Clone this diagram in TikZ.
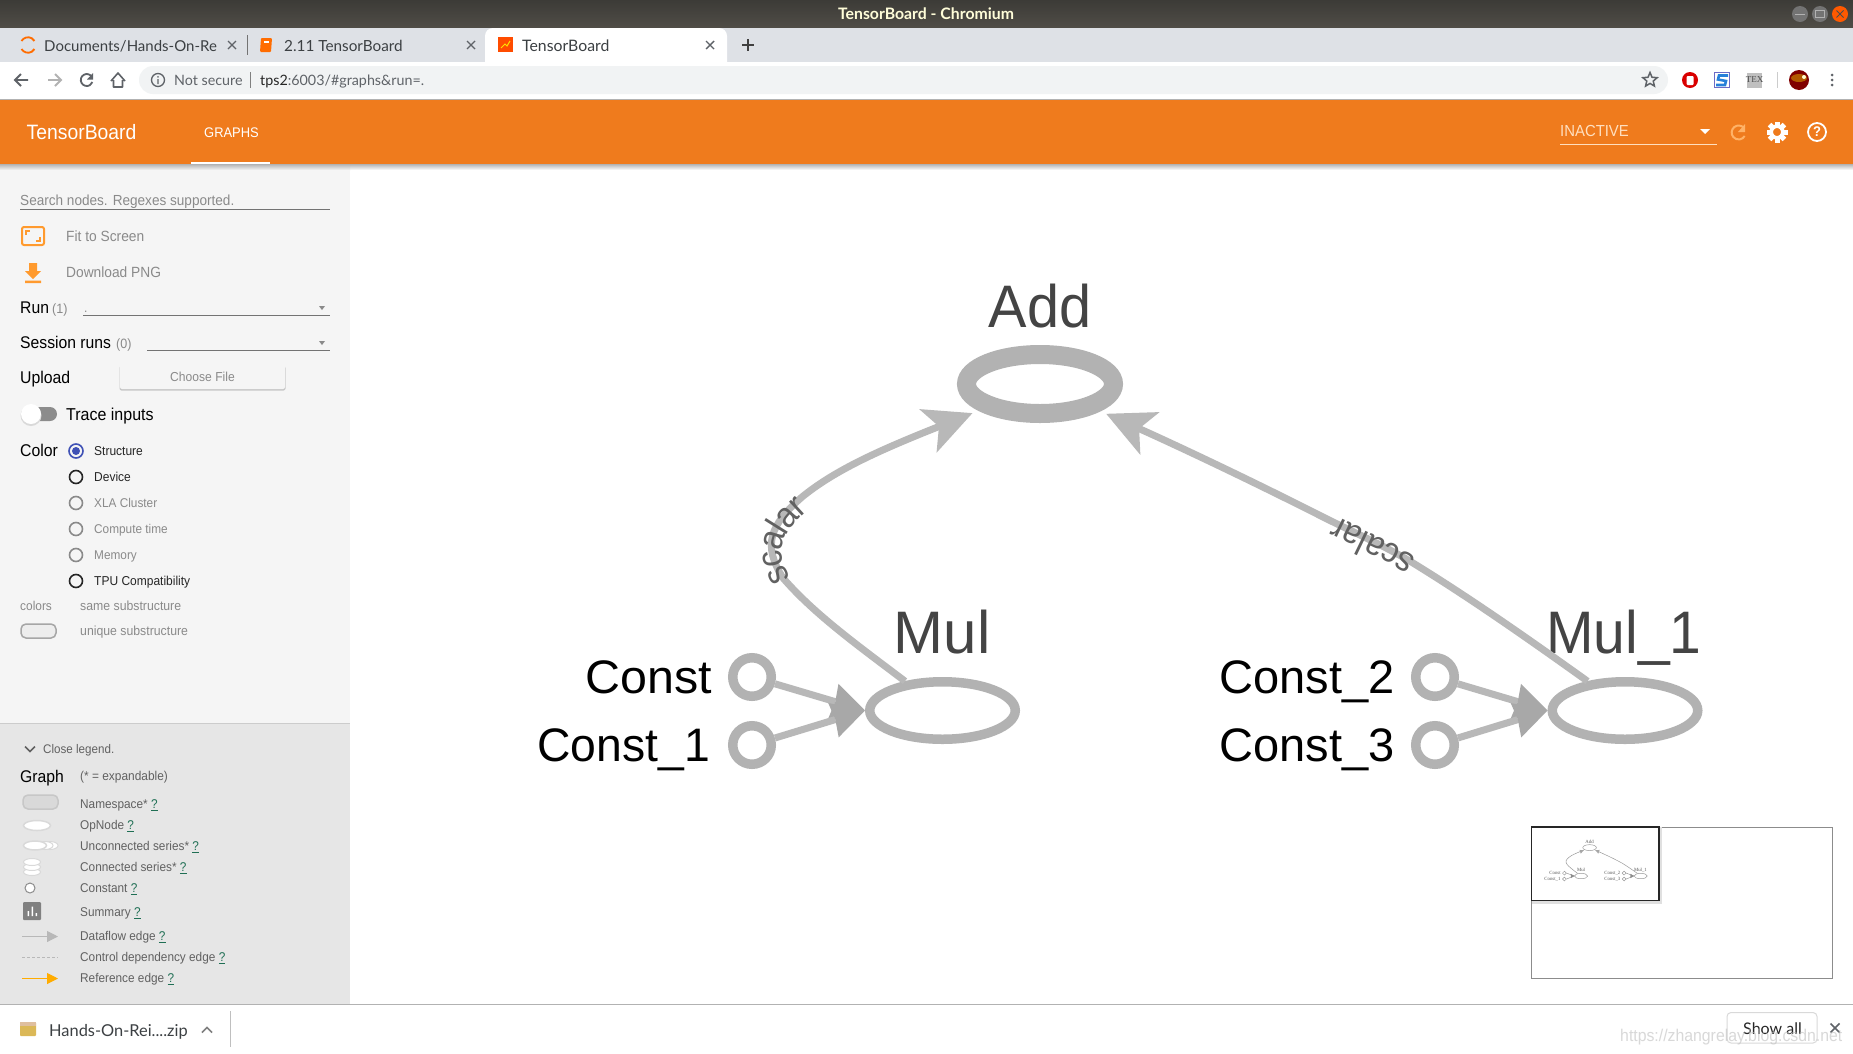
\documentclass[tikz,border=0pt]{standalone}
\usepackage{fontspec}
\usetikzlibrary{arrows.meta,shapes.geometric,decorations.text,calc}
\newfontfamily\uif{Liberation Sans}[FakeStretch=0.93]
\newfontfamily\bigf{Liberation Sans}
\newfontfamily\chr{Lato}
\newfontfamily\mini{Liberation Serif}
\definecolor{titletop}{HTML}{3C3B37}
\definecolor{titlebot}{HTML}{504D47}
\definecolor{tabbar}{HTML}{DEE1E6}
\definecolor{pill}{HTML}{F1F3F4}
\definecolor{orng}{HTML}{EF7B1D}
\definecolor{icono}{HTML}{FF9A2E}
\definecolor{side}{HTML}{F5F5F5}
\definecolor{lgd}{HTML}{E6E6E6}
\definecolor{edgec}{HTML}{B8B8B8}
\definecolor{nodec}{HTML}{B2B2B2}
\definecolor{tipc}{HTML}{A8A8A8}
\definecolor{opname}{HTML}{444444}
\definecolor{gtxt}{HTML}{8A8A8A}
\definecolor{ltxt}{HTML}{616161}
\definecolor{chtxt}{HTML}{3C4043}
\definecolor{chgrey}{HTML}{5F6368}
\definecolor{linkc}{HTML}{1F6F54}
\definecolor{radioblue}{HTML}{3F51B5}
\newcounter{tn}
\newcommand\uit[5]{\stepcounter{tn}\node[anchor=base west,inner sep=0pt,text=#4,font=\uif\fontsize{#3}{#3}\selectfont] (t\arabic{tn}) at (#1,#2) {#5};}
\newcommand\cht[5]{\stepcounter{tn}\node[anchor=base west,inner sep=0pt,text=#4,font=\chr\fontsize{#3}{#3}\selectfont] (t\arabic{tn}) at (#1,#2) {#5};}
\newcommand\qm{{\color{linkc}\underline{?}}}
\tikzset{
 opnode/.style={draw=nodec,ellipse,inner sep=0pt},
 addnode/.style={opnode,minimum width=147pt,minimum height=59pt,line width=19pt},
 mulnode/.style={opnode,minimum width=145.5pt,minimum height=57.5pt,line width=9.5pt},
 constnode/.style={draw=nodec,circle,inner sep=0pt,minimum size=38.5pt,line width=9.5pt},
 dataedge/.style={draw=edgec,line width=7pt,-{Stealth[length=33pt,width=36pt,inset=2pt,fill=tipc,line width=0pt]}},
 bigedge/.style={draw=edgec,line width=7pt,-{Stealth[length=48pt,width=47pt,inset=12pt,fill=edgec,line width=0pt]}},
 opname/.style={inner sep=0pt,anchor=base,text=opname,font=\bigf\fontsize{60}{60}\selectfont},
 constname/.style={inner sep=0pt,anchor=base east,text=black,font=\bigf\fontsize{47}{47}\selectfont},
 minitxt/.style={inner sep=0pt,text=black!65,font=\mini\fontsize{4.8}{4.8}\selectfont},
 xmark/.style={draw=chgrey,line width=1.4pt},
 radiog/.style={draw=gtxt,line width=1.6pt,circle,minimum size=13pt,inner sep=0pt},
 radiok/.style={draw=black!85,line width=1.6pt,circle,minimum size=13pt,inner sep=0pt},
 labeldeco/.style={decorate,decoration={text along path,text align=center,raise=-7pt,
   text={|\uif\fontsize{35.5}{35.5}\selectfont\color{black!62}|scalar}}},
}
\begin{document}
\begin{tikzpicture}[x=1pt,y=-1pt,line cap=butt]
\useasboundingbox (0,0) rectangle (1853,1053);
\fill[white] (0,0) rectangle (1853,1053);
% ---------- title bar
\fill[top color=titletop,bottom color=titlebot] (0,0) rectangle (1853,28);
\stepcounter{tn}\node[font=\chr\bfseries\fontsize{15.8}{15.8}\selectfont,text=white!85!yellow] (title) at (926,14) {TensorBoard - Chromium};
\fill[black!55] (1800,14) circle (8pt); \fill[white!70!black] (1795,13.5) rectangle (1805,14.5);
\fill[black!55] (1820,14) circle (8pt); \draw[white!70!black,line width=1pt] (1815.5,10.5) rectangle (1824.5,17.5);
\fill[orange!70!red] (1840,14) circle (8pt); \draw[black!70,line width=1pt] (1836.5,10.5) -- (1843.5,17.5) (1836.5,17.5) -- (1843.5,10.5);
% ---------- tab strip
\fill[tabbar] (0,28) rectangle (1853,62);
\fill[white,rounded corners=8pt] (485,70) -- (485,28) -- (727,28) -- (727,70) -- cycle;
\fill[white] (0,62) rectangle (1853,99);
\draw[black!55,line width=.8pt] (247,35) -- (247,55);
\draw[orange!85!red,line width=1.8pt] (21.5,41) arc[start angle=150,end angle=30,radius=7.5pt];
\draw[orange!85!red,line width=1.8pt] (21.5,49) arc[start angle=210,end angle=330,radius=7.5pt];
\cht{44}{51}{15}{chtxt}{Documents/Hands-On-Re}
\draw[xmark] (228,41) -- (236,49) (228,49) -- (236,41);
\fill[orange!85!red,rounded corners=1pt] (261,38) -- (272,38) -- (271,52) -- (260,52) -- cycle;
\fill[white] (264,41) rectangle (269,42.5);
\cht{284}{51}{15.3}{chtxt}{2.11 TensorBoard}
\draw[xmark] (467,41) -- (475,49) (467,49) -- (475,41);
\fill[orange!60!red] (498,37) rectangle (513,52);
\draw[yellow!85!orange,line width=1pt] (501,48) -- (505,44) -- (507,46) -- (510,41);
\cht{522}{51}{15.8}{chtxt}{TensorBoard}
\draw[xmark] (706,41) -- (714,49) (706,49) -- (714,41);
\draw[black!75,line width=1.8pt] (742,45) -- (754,45) (748,39) -- (748,51);
% ---------- toolbar
\draw[chgrey,line width=1.8pt] (28,80) -- (15,80) (21,74) -- (15,80) -- (21,86);
\draw[black!30,line width=1.8pt] (48,80) -- (61,80) (55,74) -- (61,80) -- (55,86);
\draw[chgrey,line width=1.8pt] (92,77) arc[start angle=30,end angle=340,radius=6pt];
\fill[chgrey] (93,73) -- (93,79.5) -- (87,79.5) -- cycle;
\draw[chgrey,line width=1.6pt,line join=round] (111,81) -- (118,73) -- (125,81) (113.5,80) -- (113.5,87) -- (122.5,87) -- (122.5,80);
\fill[pill,rounded corners=14pt] (139,66) rectangle (1668,94);
\draw[chgrey,line width=1.3pt] (158,80) circle (6.5pt);
\fill[chgrey] (157.3,79) rectangle (158.7,84) (157.3,76) rectangle (158.7,77.5);
\cht{174}{85.5}{14.3}{chgrey}{Not secure}
\draw[black!50,line width=.7pt] (250,72) -- (250,88);
\cht{260}{85.5}{14.3}{chgrey}{{\color{black!85}tps2}:6003/\#graphs\&run=.}
\node[star,star points=5,star point ratio=2.2,draw=chgrey,line width=1.5pt,minimum size=15pt,inner sep=0pt] (starb) at (1650,80) {};
\fill[red!85!black] (1690,80) circle (8pt);
\fill[white,rounded corners=1pt] (1686.5,85) rectangle (1693.5,76);
\draw[blue!45!gray!80,line width=1pt,fill=white] (1714.5,72.5) rectangle (1729.5,87.5);
\draw[blue!50!cyan!70!gray,line width=2.6pt] (1728,75.5) -- (1719,75.5) -- (1718,79.5) -- (1726,81) -- (1725,85) -- (1716,85);
\fill[black!25] (1747,73) rectangle (1762,88);
\stepcounter{tn}\node[font=\mini\fontsize{9}{9}\selectfont,text=black!70,inner sep=0pt] (texic) at (1754.5,80) {TEX};
\draw[black!20,line width=.8pt] (1777,72) -- (1777,88);
\fill[red!50!black] (1799,80) circle (10pt);
\fill[orange!70!black] (1799,78) ellipse (8pt and 4pt);
\fill[white!80!yellow] (1804,77) circle (2pt);
\fill[chgrey] (1832,75) circle (1.5pt) (1832,80) circle (1.5pt) (1832,85) circle (1.5pt);
\draw[black!30,line width=1pt] (0,99) -- (1853,99);
% ---------- header
\fill[orng] (0,99.5) rectangle (1853,164);
\fill[top color=black!30,bottom color=white] (350,164) rectangle (1853,170);
\uit{26.5}{139.5}{20.8}{white}{TensorBoard}
\uit{204}{137}{13.9}{white}{GRAPHS}
\fill[white] (191,162) rectangle (270,164);
\uit{1560}{136}{16}{orange!25!white}{INACTIVE}
\draw[orange!25!white,line width=1pt] (1560,144.5) -- (1717,144.5);
\fill[white] (1700,129) -- (1710,129) -- (1705,134) -- cycle;
\draw[orange!60!white,line width=2pt] (1744,128) arc[start angle=40,end angle=330,radius=7pt];
\fill[orange!60!white] (1745,124) -- (1745,132) -- (1738,132) -- cycle;
\draw[white,line width=3.6pt] (1777,132) circle (5.8pt);
\foreach \a in {0,45,...,315}{\fill[white,rotate around={\a:(1777,132)}] (1774.5,121.5) rectangle (1779.5,126);}
\draw[white,line width=1.8pt] (1817,132) circle (9pt);
\stepcounter{tn}\node[font=\uif\bfseries\fontsize{14}{14}\selectfont,text=white,inner sep=0pt] (helpq) at (1817,132) {?};
% ---------- sidebar
\fill[side] (0,164) rectangle (350,723);
\fill[top color=black!30,bottom color=side] (0,164) rectangle (350,170);
\uit{20}{205}{14.6}{gtxt}{Search nodes. Regexes supported.}
\draw[black!55,line width=.8pt] (20,209.5) -- (330,209.5);
\draw[icono,line width=2pt,rounded corners=2pt] (22,227) rectangle (44,245);
\draw[icono,line width=1.5pt] (26,235) -- (26,231) -- (30,231) (40,237) -- (40,241) -- (36,241);
\uit{66}{241}{14.8}{gtxt}{Fit to Screen}
\fill[icono] (29,263) rectangle (37,271) (25,271) -- (41,271) -- (33,279) -- cycle (25,280.5) rectangle (41,283);
\uit{66}{277}{14.8}{gtxt}{Download PNG}
\uit{20}{313}{16.9}{black}{Run}
\uit{52}{313}{13.5}{gtxt}{(1)}
\uit{84}{312}{13}{gtxt}{.}
\draw[black!55,line width=.8pt] (83,315.5) -- (330,315.5);
\fill[gtxt] (319,306) -- (325,306) -- (322,310) -- cycle;
\uit{20}{348}{16.9}{black}{Session runs}
\uit{116}{348}{13.5}{gtxt}{(0)}
\draw[black!55,line width=.8pt] (147,350) -- (330,350);
\fill[gtxt] (319,341) -- (325,341) -- (322,345) -- cycle;
\uit{20}{383}{17}{black}{Upload}
\fill[black!22,rounded corners=2pt] (119.5,366) rectangle (285.5,390.5);
\fill[side,rounded corners=2pt] (120,364) rectangle (285,389);
\stepcounter{tn}\node[font=\uif\fontsize{13}{13}\selectfont,text=gtxt,inner sep=0pt] (choose) at (202.5,377) {Choose File};
\fill[black!45,rounded corners=7pt] (30,407) rectangle (57,421);
\fill[black!15] (31,415.5) circle (10.5pt);
\fill[white] (31,414) circle (10pt);
\uit{66}{420}{17.2}{black}{Trace inputs}
\uit{20}{456}{17}{black}{Color}
\node[draw=radioblue,line width=1.6pt,circle,minimum size=14pt,inner sep=0pt] (r0) at (76,451) {};
\fill[radioblue] (r0.center) circle (4pt);
\uit{94}{455.5}{12.9}{black!85}{Structure}
\node[radiok] (r1) at (76,477) {}; \uit{94}{481.5}{12.9}{black!85}{Device}
\node[radiog] (r2) at (76,503) {}; \uit{94}{507.5}{12.7}{gtxt}{XLA Cluster}
\node[radiog] (r3) at (76,529) {}; \uit{94}{533.5}{12.7}{gtxt}{Compute time}
\node[radiog] (r4) at (76,555) {}; \uit{94}{559.5}{12.7}{gtxt}{Memory}
\node[radiok] (r5) at (76,581) {}; \uit{94}{585.5}{12.9}{black!85}{TPU Compatibility}
\uit{20}{610}{12.8}{gtxt}{colors}
\uit{80}{610}{13.2}{gtxt}{same substructure}
\draw[black!35,fill=black!7,line width=1.5pt,rounded corners=5pt] (21,624) rectangle (56,638);
\uit{80}{635}{13.2}{gtxt}{unique substructure}
% ---------- legend
\fill[lgd] (0,723.5) rectangle (350,1004);
\draw[black!20,line width=1pt] (0,723.5) -- (350,723.5);
\draw[ltxt,line width=1.6pt] (25,746.5) -- (30,751.5) -- (35,746.5);
\uit{43}{753.5}{12.5}{ltxt}{Close legend.}
\uit{20}{782}{16.9}{black}{Graph}
\uit{80}{780.5}{12.8}{ltxt}{(* = expandable)}
\draw[black!22,fill=black!15,line width=1.5pt,rounded corners=5pt] (23,795) rectangle (58,809);
\uit{80}{808.5}{12.7}{ltxt}{Namespace* \qm}
\draw[black!15,fill=white,line width=1.5pt] (37,825.5) ellipse (13.5pt and 5pt);
\uit{80}{829.5}{12.7}{ltxt}{OpNode \qm}
\draw[black!15,fill=white,line width=1pt] (50,845.5) ellipse (8pt and 4pt);
\draw[black!15,fill=white,line width=1pt] (45,845.5) ellipse (8pt and 4pt);
\draw[black!15,fill=white,line width=1.5pt] (35,845.5) ellipse (11.5pt and 4.5pt);
\uit{80}{850.5}{12.7}{ltxt}{Unconnected series* \qm}
\draw[black!15,fill=white,line width=1pt] (32,872) ellipse (8.5pt and 3.5pt);
\draw[black!15,fill=white,line width=1pt] (32,867) ellipse (8.5pt and 3.5pt);
\draw[black!15,fill=white,line width=1pt] (32,862) ellipse (8.5pt and 3.5pt);
\uit{80}{871.5}{12.7}{ltxt}{Connected series* \qm}
\draw[black!45,fill=white,line width=1pt] (30,888) circle (5pt);
\uit{80}{892.5}{12.7}{ltxt}{Constant \qm}
\fill[black!50,rounded corners=1pt] (23,902) rectangle (41,920);
\fill[white] (27.5,911) rectangle (29,916) (31.5,906.5) rectangle (33,916) (35.5,913) rectangle (37,916);
\uit{80}{916.5}{12.7}{ltxt}{Summary \qm}
\draw[black!28,line width=1pt,-{Stealth[length=11pt,width=11pt,inset=0pt]}] (22,936.5) -- (58,936.5);
\uit{80}{940.5}{12.7}{ltxt}{Dataflow edge \qm}
\draw[black!28,line width=1pt,densely dashed] (22,957.5) -- (58,957.5);
\uit{80}{961.5}{12.7}{ltxt}{Control dependency edge \qm}
\draw[orange!65!yellow,line width=1pt,-{Stealth[length=11pt,width=11pt,inset=0pt]}] (22,978.5) -- (58,978.5);
\uit{80}{982.5}{12.7}{ltxt}{Reference edge \qm}
% ---------- download shelf
\draw[black!30,line width=1pt] (0,1004) -- (1853,1004);
\fill[brown!70!yellow!80!white,rounded corners=1pt] (20,1022) rectangle (36,1036);
\fill[brown!50!white] (20,1022) rectangle (36,1026);
\cht{49}{1036}{16.4}{chtxt}{Hands-On-Rei....zip}
\draw[black!50,line width=1.5pt] (202,1032.5) -- (207,1027.5) -- (212,1032.5);
\draw[black!25,line width=1pt] (230,1011) -- (230,1047);
\draw[black!15,line width=1pt,rounded corners=4pt] (1727,1012.5) rectangle (1817,1043);
\cht{1743}{1034}{16}{black!85}{Show all}
\draw[chgrey,line width=1.6pt] (1830.5,1023.5) -- (1839.5,1032.5) (1830.5,1032.5) -- (1839.5,1023.5);
% ---------- main graph
\node[addnode] (add) at (1040,384) {};
\node[mulnode] (mul) at (942.5,710.5) {};
\node[mulnode] (mulb) at (1625,710.5) {};
\node[constnode] (c0) at (752,677) {};
\node[constnode] (c1) at (752,745) {};
\node[constnode] (c2) at (1435,677) {};
\node[constnode] (c3) at (1435,745) {};
\node[opname] (addlab) at (1040,327) {\scalebox{.96}[1]{Add}};
\node[opname] (mullab) at (942,653) {Mul};
\node[opname] (mulblab) at (1624,653) {\scalebox{.95}[1]{Mul\_1}};
\node[constname] (cl0) at (712.5,693) {\scalebox{1.03}[1]{Const}};
\node[constname] (cl1) at (710,761.5) {\scalebox{.985}[1]{Const\_1}};
\node[constname] (cl2) at (1395,693) {Const\_2};
\node[constname] (cl3) at (1395,761.5) {Const\_3};
\draw[dataedge] (c0) -- (mul.west);
\draw[dataedge] (c1) -- (mul.west);
\draw[dataedge] (c2) -- (mulb.west);
\draw[dataedge] (c3) -- (mulb.west);
\coordinate (la) at (783,578);
\coordinate (lb) at (802,497);
\coordinate (ra) at (1413,563);
\coordinate (rb) at (1325,518);
\coordinate (lta) at (786,584);
\coordinate (ltb) at (806,503);
\coordinate (rta) at (1418,566);
\coordinate (rtb) at (1330,521);
\coordinate (addl) at ($(add.203)+(-6,3)$);
\coordinate (addr) at ($(add.336)+(6,3)$);
\draw[bigedge] (mul.142) .. controls (860,647) and (815,615) .. (la)
  .. controls (762,545) and (770,525) .. (lb)
  .. controls (835,470) and (880,450) .. (addl);
\draw[bigedge] (mulb.142) .. controls (1530,640) and (1470,598) .. (ra)
  .. controls (1385,546) and (1355,533) .. (rb)
  .. controls (1250,480) and (1180,447) .. (addr);
\path[labeldeco] (lta) .. controls (765,551) and (773,531) .. (ltb);
\path[labeldeco] (rta) .. controls (1390,549) and (1360,536) .. (rtb);
% ---------- minimap
\draw[black!45,line width=1pt] (1531.5,827) rectangle (1832.5,978);
\fill[black!12] (1531.5,827) rectangle (1662,903.5);
\draw[black!85,fill=white,line width=1.5pt] (1531.5,827) rectangle (1659,900.5);
\begin{scope}[shift={(1498.67,814.2)},x=.0874pt,y=-.087pt,draw=black!40,line width=.5pt]
 \draw (1040,384) ellipse [x radius=78,y radius=34];
 \draw (942.5,710.5) ellipse [x radius=75,y radius=31];
 \draw (1625,710.5) ellipse [x radius=75,y radius=31];
 \foreach \p in {(752,677),(752,745),(1435,677),(1435,745)}{\draw \p circle [radius=22];}
 \draw (776,677) -- (865,710) -- (776,745) (1459,677) -- (1547,710) -- (1459,745);
 \fill[black!45] (865,710) -- (825,685) -- (825,735) -- cycle (1547,710) -- (1507,685) -- (1507,735) -- cycle;
 \draw (903,680) .. controls (860,647) and (815,615) .. (783,578) .. controls (760,545) and (768,525) .. (802,497) .. controls (835,470) and (880,450) .. (973,413);
 \draw (1587,680) .. controls (1530,640) and (1470,598) .. (1413,563) .. controls (1300,500) and (1180,447) .. (1106,413);
 \fill[black!35] (973,413) -- (925,411) -- (939,454) -- cycle (1106,413) -- (1155,411) -- (1140,454) -- cycle;
 \node[minitxt] (ma) at (1040,322) {Add};
 \node[minitxt] (mb) at (942,640) {Mul};
 \node[minitxt] (mc) at (1622,640) {Mul\_1};
 \node[minitxt,anchor=east] (md) at (712,680) {Const};
 \node[minitxt,anchor=east] (me) at (710,748) {Const\_1};
 \node[minitxt,anchor=east] (mf) at (1395,680) {Const\_2};
 \node[minitxt,anchor=east] (mg) at (1395,748) {Const\_3};
\end{scope}
% ---------- watermark
\stepcounter{tn}\node[anchor=base west,inner sep=0pt,font=\uif\fontsize{17}{17}\selectfont,text=black!25,opacity=.6] (wm) at (1620,1041) {https://zhangrelay.blog.csdn.net};
\end{tikzpicture}
\end{document}
